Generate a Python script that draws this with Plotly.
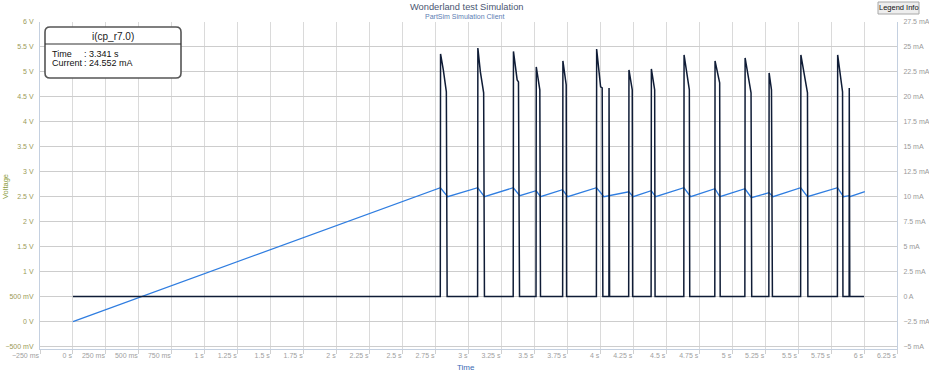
import plotly.graph_objects as go

# ---------------- data ----------------
# Voltage trace (blue, left axis, volts)
time_v = [0.0, 2.787, 2.842, 3.070, 3.121, 3.340, 3.389, 3.513, 3.546, 3.713,
          3.753, 3.971, 4.027, 4.065, 4.070, 4.216, 4.249, 4.386, 4.419, 4.634,
          4.685, 4.869, 4.907, 5.097, 5.146, 5.279, 5.310, 5.520, 5.571, 5.799,
          5.844, 5.887, 5.892, 6.006]
volt = [0.0, 2.68, 2.50, 2.68, 2.50, 2.68, 2.52, 2.62, 2.50, 2.64,
        2.50, 2.68, 2.50, 2.52, 2.51, 2.60, 2.50, 2.62, 2.50, 2.68,
        2.50, 2.66, 2.50, 2.66, 2.48, 2.58, 2.50, 2.68, 2.50, 2.68,
        2.50, 2.52, 2.50, 2.60]

# Current trace i(cp_r7.0) (dark, right axis, mA)
time_i = [0.0,
          2.786, 2.788, 2.809, 2.832, 2.838,
          3.069, 3.071, 3.090, 3.115, 3.121,
          3.339, 3.341, 3.369, 3.379, 3.387,
          3.512, 3.514, 3.541, 3.546,
          3.714, 3.716, 3.741, 3.744,
          3.970, 3.972, 4.002, 4.014, 4.019,
          4.065, 4.066, 4.070,
          4.215, 4.217, 4.242, 4.245,
          4.385, 4.387, 4.412, 4.415,
          4.633, 4.635, 4.675, 4.678,
          4.868, 4.870, 4.905, 4.909,
          5.096, 5.098, 5.143, 5.148,
          5.278, 5.280, 5.298, 5.300, 5.305,
          5.519, 5.521, 5.571, 5.574,
          5.798, 5.800, 5.837, 5.840,
          5.887, 5.888, 5.892,
          6.0]
curr = [0.0,
        0.0, 24.3, 22.7, 20.5, 0.0,
        0.0, 24.9, 22.5, 20.4, 0.0,
        0.0, 24.552, 21.7, 21.5, 0.0,
        0.0, 23.0, 20.7, 0.0,
        0.0, 23.6, 21.2, 0.0,
        0.0, 24.8, 21.0, 20.9, 0.0,
        0.0, 20.9, 0.0,
        0.0, 22.7, 20.7, 0.0,
        0.0, 22.8, 20.7, 0.0,
        0.0, 24.2, 20.7, 0.0,
        0.0, 23.6, 21.4, 0.0,
        0.0, 23.9, 20.4, 0.0,
        0.0, 22.4, 20.7, 8.0, 0.0,
        0.0, 24.2, 20.4, 0.0,
        0.0, 24.2, 20.5, 0.0,
        0.0, 20.9, 0.0,
        0.0]

x_tickvals = [-0.25, 0, 0.25, 0.5, 0.75, 1, 1.25, 1.5, 1.75, 2, 2.25, 2.5, 2.75,
              3, 3.25, 3.5, 3.75, 4, 4.25, 4.5, 4.75, 5, 5.25, 5.5, 5.75, 6, 6.25]
x_ticktext = ["\u2212250 ms", "0 s", "250 ms", "500 ms", "750 ms", "1 s", "1.25 s",
              "1.5 s", "1.75 s", "2 s", "2.25 s", "2.5 s", "2.75 s", "3 s", "3.25 s",
              "3.5 s", "3.75 s", "4 s", "4.25 s", "4.5 s", "4.75 s", "5 s", "5.25 s",
              "5.5 s", "5.75 s", "6 s", "6.25 s"]
v_tickvals = [-0.5, 0, 0.5, 1, 1.5, 2, 2.5, 3, 3.5, 4, 4.5, 5, 5.5, 6]
v_ticktext = ["\u2212500 mV", "0 V", "500 mV", "1 V", "1.5 V", "2 V", "2.5 V",
              "3 V", "3.5 V", "4 V", "4.5 V", "5 V", "5.5 V", "6 V"]
i_tickvals = [-5, -2.5, 0, 2.5, 5, 7.5, 10, 12.5, 15, 17.5, 20, 22.5, 25, 27.5]
i_ticktext = ["\u22125 mA", "\u22122.5 mA", "0 A", "2.5 mA", "5 mA", "7.5 mA", "10 mA",
              "12.5 mA", "15 mA", "17.5 mA", "20 mA", "22.5 mA", "25 mA", "27.5 mA"]

title_text = "Wonderland test Simulation"
subtitle_text = "PartSim Simulation Client"
legend_title = "i(cp_r7.0)"
legend_rows = [("Time", ": 3.341 s"), ("Current", ": 24.552 mA")]

# ---------------- layout helpers ----------------
W, H = 929, 373
PL, PR, PT, PB = 40, 897, 22, 349   # plot area in pixels


def px(x):
    return (x - PL) / (PR - PL)


def py(y):
    return (PB - y) / (PB - PT)


FONT = "Arial, Liberation Sans, sans-serif"

fig = go.Figure()
fig.add_trace(go.Scatter(x=time_v, y=volt, mode="lines", yaxis="y",
                         line=dict(color="#2f7de0", width=1.3), hoverinfo="skip",
                         showlegend=False))
fig.add_trace(go.Scatter(x=time_i, y=curr, mode="lines", yaxis="y2",
                         line=dict(color="#0f1c36", width=1.5), hoverinfo="skip",
                         showlegend=False))

shapes = []
# legend box (rounded rectangle)
x0, x1, y0, y1, r = 45, 181, 27, 78, 5


def P(x, y):
    return f"{px(x):.5f},{py(y):.5f}"


path = (f"M {P(x0 + r, y0)} L {P(x1 - r, y0)} Q {P(x1, y0)} {P(x1, y0 + r)} "
        f"L {P(x1, y1 - r)} Q {P(x1, y1)} {P(x1 - r, y1)} "
        f"L {P(x0 + r, y1)} Q {P(x0, y1)} {P(x0, y1 - r)} "
        f"L {P(x0, y0 + r)} Q {P(x0, y0)} {P(x0 + r, y0)} Z")
shapes.append(dict(type="path", xref="paper", yref="paper", path=path,
                   fillcolor="white", line=dict(color="#555555", width=1.6)))
shapes.append(dict(type="line", xref="paper", yref="paper",
                   x0=px(x0), x1=px(x1), y0=py(44), y1=py(44),
                   line=dict(color="#333333", width=1.2)))
# Legend Info button
shapes.append(dict(type="rect", xref="paper", yref="paper",
                   x0=px(878), x1=px(919), y0=py(2), y1=py(14),
                   fillcolor="#eeeeee", line=dict(color="#a8a8a8", width=1)))

annotations = [
    dict(text=title_text, x=px(467), y=py(7), xref="paper", yref="paper",
         showarrow=False, font=dict(family=FONT, size=9.3, color="#4a5672"),
         xanchor="center", yanchor="middle"),
    dict(text=subtitle_text, x=px(464), y=py(16), xref="paper", yref="paper",
         showarrow=False, font=dict(family=FONT, size=7, color="#5b7db3"),
         xanchor="center", yanchor="middle"),
    dict(text="Voltage", x=px(5), y=py(187), xref="paper", yref="paper",
         showarrow=False, textangle=-90,
         font=dict(family=FONT, size=7.5, color="#8a9a3a"),
         xanchor="center", yanchor="middle"),
    dict(text="Time", x=px(466), y=py(367), xref="paper", yref="paper",
         showarrow=False, font=dict(family=FONT, size=8, color="#3a6ab4"),
         xanchor="center", yanchor="middle"),
    dict(text="Legend Info", x=px(898.5), y=py(8), xref="paper", yref="paper",
         showarrow=False, font=dict(family=FONT, size=7.5, color="#111111"),
         xanchor="center", yanchor="middle"),
    dict(text=legend_title, x=px(113), y=py(36), xref="paper", yref="paper",
         showarrow=False, font=dict(family=FONT, size=10, color="#222222"),
         xanchor="center", yanchor="middle"),
]
for k, (lab, val) in enumerate(legend_rows):
    yy = 54 + 9 * k
    annotations.append(dict(text=lab, x=px(50), y=py(yy), xref="paper", yref="paper",
                            showarrow=False, font=dict(family=FONT, size=9, color="#111111"),
                            xanchor="left", yanchor="middle"))
    annotations.append(dict(text=val, x=px(82), y=py(yy), xref="paper", yref="paper",
                            showarrow=False, font=dict(family=FONT, size=9, color="#111111"),
                            xanchor="left", yanchor="middle"))

fig.update_layout(
    width=W, height=H,
    margin=dict(l=PL, r=W - PR, t=PT, b=H - PB, pad=0, autoexpand=False),
    paper_bgcolor="white", plot_bgcolor="white",
    showlegend=False,
    xaxis=dict(range=[-0.25, 6.25], tickvals=x_tickvals, ticktext=x_ticktext,
               automargin=False, tickangle=0,
               showgrid=True, gridcolor="#dadada", gridwidth=1, zeroline=False,
               showline=True, linecolor="#c4d0e0", linewidth=1,
               ticks="outside", ticklen=4, tickcolor="#d0d0d0",
               ticklabelposition="outside left",
               tickfont=dict(family=FONT, size=7, color="#a0a0a0")),
    yaxis=dict(range=[-0.55, 6.0], tickvals=v_tickvals, ticktext=v_ticktext,
               automargin=False,
               showgrid=True, gridcolor="#cdcdcd", gridwidth=1, zeroline=False,
               showline=True, linecolor="#c4d0e0", linewidth=1,
               ticks="", ticklabelstandoff=4,
               tickfont=dict(family=FONT, size=7, color="#9a9a58")),
    yaxis2=dict(range=[-5.25, 27.5], tickvals=i_tickvals, ticktext=i_ticktext,
                automargin=False,
                overlaying="y", side="right", showgrid=False, zeroline=False,
                showline=True, linecolor="#c4d0e0", linewidth=1,
                ticks="", ticklabelstandoff=4,
                tickfont=dict(family=FONT, size=7, color="#9a9a9a")),
    shapes=shapes,
    annotations=annotations,
)

fig.write_html("out.html",
               config={"displayModeBar": False},
               post_script="document.body.style.margin='0px';"
                           "document.body.style.padding='0px';")
